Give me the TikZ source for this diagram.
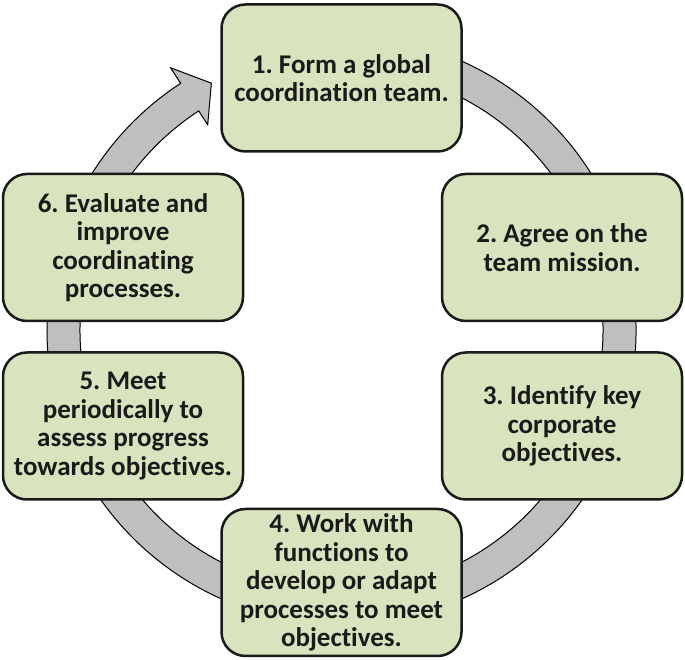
\documentclass[tikz,border=0pt]{standalone}
\usepackage{fontspec}
\setmainfont{Carlito}[Ligatures=NoCommon]
\frenchspacing
\definecolor{boxgreen}{HTML}{D7E4BD}
\definecolor{ringgrey}{HTML}{BFBFBF}
\definecolor{edgedark}{HTML}{1A1A1A}
\begin{document}
\begin{tikzpicture}[x=1pt,y=1pt,
  stepbox/.style={draw=edgedark, line width=2.5pt, fill=boxgreen,
    rounded corners=24pt, minimum width=240pt, minimum height=147pt,
    inner sep=0pt, align=center, text=edgedark,
    font=\fontsize{27}{28.5}\selectfont\bfseries\frenchspacing},
  ring/.style={fill=ringgrey, draw=black, line width=1pt, line join=miter}]
\useasboundingbox (0,0) rectangle (685,660);
% circular arrow
\begin{scope}[shift={(341.5,330)}]
  \path[ring] (100:294.5) arc[start angle=100, end angle=-236.9, radius=294.5]
    -- (123.1:313) -- (117.8:279) -- (123.1:245)
    -- (123.1:261.5) arc[start angle=-236.9, end angle=100, radius=261.5] -- cycle;
\end{scope}
% boxes
\node[stepbox] (s1) at (341.5,582) {1. Form a global\\coordination team.};
\node[stepbox] (s2) at (562,412.5) {2. Agree on the\\team mission.};
\node[stepbox] (s3) at (562,234) {3. Identify key\\corporate\\objectives.};
\node[stepbox] (s4) at (341.5,77.5) {4. Work with\\functions to\\develop or adapt\\processes to meet\\objectives.};
\node[stepbox] (s5) at (123,234) {5. Meet\\periodically to\\assess progress\\towards objectives.};
\node[stepbox] (s6) at (123,412.5) {6. Evaluate and\\improve\\coordinating\\processes.};
\end{tikzpicture}
\end{document}
